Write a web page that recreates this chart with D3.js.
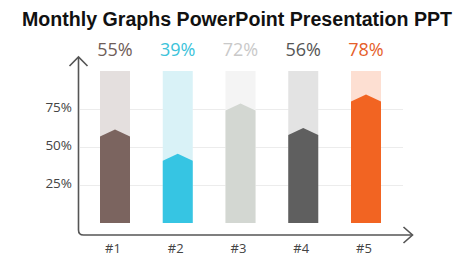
<!DOCTYPE html>
<html>
<head>
<meta charset="utf-8">
<script src="https://cdn.jsdelivr.net/npm/d3@7"></script>
<style>
  html, body { margin: 0; padding: 0; background: #fff; }
  svg { display: block; }
</style>
</head>
<body>
<div id="chart-container"></div>
<script>
const categories = ["#1", "#2", "#3", "#4", "#5"];
const values = [55, 39, 72, 56, 78];
const yTicks = [25, 50, 75];
const barColors = ["#7b645f", "#36c5e3", "#d3d7d2", "#5f5f5f", "#f26422"];
const backColors = ["#e4dfde", "#d9f2f7", "#f4f4f4", "#e3e3e3", "#fddfd2"];
const labelColors = ["#6f5d58", "#3cc3da", "#c9c9c9", "#555555", "#e5602a"];

const width = 474, height = 266;
const svg = d3.select("#chart-container").append("svg")
  .attr("width", width).attr("height", height);

svg.append("text")
  .attr("x", 237).attr("y", 26)
  .attr("text-anchor", "middle")
  .style("font-family", "'Liberation Sans', Arial, sans-serif")
  .style("font-weight", "bold")
  .style("font-size", "19.6px")
  .attr("fill", "#111")
  .text("Monthly Graphs PowerPoint Presentation PPT");

const x = d3.scalePoint().domain(categories).range([115, 366]);
const y = d3.scaleLinear().domain([0, 100]).range([223, 71]);
const barW = 30;

// grid + y labels
const yAxis = svg.append("g")
  .attr("transform", "translate(403,0)")
  .call(d3.axisLeft(y).tickValues(yTicks).tickSize(323).tickPadding(8).tickFormat(d => d + "%"));
yAxis.select(".domain").remove();
yAxis.selectAll(".tick line").attr("stroke", "#ececec");
yAxis.selectAll("text")
  .attr("dy", "0.2em")
  .style("font-family", "'Open Sans', sans-serif")
  .style("font-size", "13.5px")
  .attr("fill", "#444");

const data = categories.map((c, i) => ({ c, v: values[i], i }));

// background bars
svg.selectAll("rect.back").data(data).join("rect")
  .attr("class", "back")
  .attr("x", d => x(d.c) - barW / 2)
  .attr("y", y(100))
  .attr("width", barW)
  .attr("height", y(0) - y(100))
  .attr("fill", d => backColors[d.i]);

// arrow-shaped value bars
svg.selectAll("path.bar").data(data).join("path")
  .attr("class", "bar")
  .attr("fill", d => barColors[d.i])
  .attr("d", d => {
    const cx = x(d.c), l = cx - barW / 2, r = cx + barW / 2;
    const s = y(d.v) - 3, p = s - 7;
    return `M${l},${y(0)}L${l},${s}L${cx},${p}L${r},${s}L${r},${y(0)}Z`;
  });

// value labels
svg.selectAll("text.val").data(data).join("text")
  .attr("class", "val")
  .attr("x", d => x(d.c))
  .attr("y", 55.5)
  .attr("text-anchor", "middle")
  .style("font-family", "'Open Sans', sans-serif")
  .style("font-size", "18px")
  .attr("fill", d => labelColors[d.i])
  .text(d => d.v + "%");

// x labels
svg.selectAll("text.cat").data(data).join("text")
  .attr("class", "cat")
  .attr("x", d => x(d.c) - 2)
  .attr("y", 252.5)
  .attr("text-anchor", "middle")
  .style("font-family", "'Open Sans', sans-serif")
  .style("font-size", "13px")
  .attr("fill", "#444")
  .text(d => d.c);

// axes with arrows
const axisColor = "#555";
svg.append("path")
  .attr("d", "M78.5,57.5L78.5,230Q78.5,235 83.5,235L412,235")
  .attr("fill", "none").attr("stroke", axisColor).attr("stroke-width", 1.6);
svg.append("path")
  .attr("d", "M69.5,66L78.5,57L87.5,66")
  .attr("fill", "none").attr("stroke", axisColor).attr("stroke-width", 1.6);
svg.append("path")
  .attr("d", "M403.5,227L412.5,235L403.5,243")
  .attr("fill", "none").attr("stroke", axisColor).attr("stroke-width", 1.6);
</script>
</body>
</html>
